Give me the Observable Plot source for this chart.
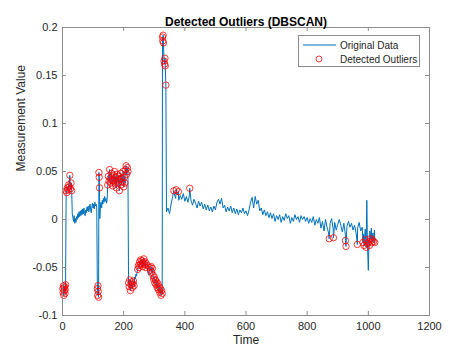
<!DOCTYPE html>
<html><head><meta charset="utf-8">
<script src="https://cdn.jsdelivr.net/npm/d3@7"></script>
<script src="https://cdn.jsdelivr.net/npm/@observablehq/plot@0.6"></script>
<style>
body{margin:0;background:#fff;font-family:"Liberation Sans",Arial,sans-serif;}
#wrap{position:relative;width:474px;height:355px;}
#legend{position:absolute;left:298px;top:35px;width:120px;height:30px;border:1px solid #8c8c8c;background:#fff;}
#legend svg{display:block;}
</style></head><body>
<div id="wrap"><div id="chart"></div><div id="legend"></div></div>
<script>
const titleText = "Detected Outliers (DBSCAN)";
const xLabel = "Time";
const yLabel = "Measurement Value";
const legendLabels = ["Original Data", "Detected Outliers"];
const xTicks = [0, 200, 400, 600, 800, 1000, 1200];
const yTicks = [-0.1, -0.05, 0, 0.05, 0.1, 0.15, 0.2];

// regular (non-outlier) samples in the early part
const normalTime = [32,34,36,38,40,42,44,46,48,50,52,54,56,58,60,62,64,66,68,70,72,74,76,78,80,82,84,86,88,90,92,94,96,98,100,102,104,106,108,110,112,
  122,124,126,128,130,132,134,136,138,140,142,144,146,
  236,238,240,242,244,
  278,280,282,284];
const normalValue = [0.006,0.002,-0.002,0.004,-0.004,0.001,-0.003,0.003,0.000,0.006,0.002,0.008,0.003,0.009,0.004,0.010,0.005,0.011,0.006,0.012,0.006,0.004,0.010,0.007,0.013,0.009,0.014,0.008,0.012,0.016,0.010,0.007,0.013,0.017,0.012,0.016,0.011,0.018,0.014,0.016,0.012,
  0.001,0.014,0.018,0.012,0.020,0.016,0.022,0.018,0.024,0.019,0.022,0.017,0.021,
  -0.060,-0.062,-0.057,-0.059,-0.055,
  -0.052,-0.056,-0.058,-0.054];

// regular samples from t = 340 on, every 5 time units
const lateStart = 340, lateStep = 5;
const lateValue = [0.008,0.012,0.006,0.016,0.024,0.027,0.022,0.026,0.020,0.025,0.021,0.027,0.019,0.024,0.018,0.025,
  0.020,0.015,0.021,0.017,0.012,0.019,0.014,0.018,0.011,0.016,0.010,0.015,0.009,0.013,0.008,0.014,
  0.010,0.018,0.021,0.016,0.022,0.012,0.015,0.008,0.013,0.009,0.014,0.007,0.012,0.006,0.011,0.005,
  0.010,0.007,0.012,0.006,0.009,0.004,0.010,0.018,0.023,0.012,0.024,0.016,0.020,0.009,0.012,0.005,
  0.010,0.004,0.008,0.002,0.007,0.001,0.006,-0.002,0.004,0.000,0.005,-0.003,0.003,-0.001,0.006,0.001,
  0.004,-0.004,0.002,-0.002,0.005,0.000,0.003,-0.003,0.004,0.000,0.003,-0.002,0.002,-0.004,0.001,-0.003,
  0.003,-0.006,0.000,-0.004,0.002,-0.009,-0.002,-0.012,0.000,-0.008,-0.014,-0.004,0.001,-0.010,-0.003,-0.011,
  -0.005,0.000,-0.006,-0.013,-0.004,-0.016,-0.007,-0.002,-0.008,-0.004,-0.011,-0.006,-0.014,-0.009,-0.003,-0.012,
  -0.008,-0.015,-0.010,0.020,-0.053,-0.012,-0.009,-0.014,-0.011];

// detected outliers
const outlierTime = [1,2,3,4,5,6,7,8,9,10,
  12,14,16,18,20,22,24,26,28,30,
  114,115,116,117,118,119,120,121,
  148,150,152,154,156,158,160,162,164,166,168,170,172,174,176,178,180,182,184,186,188,190,192,194,196,198,200,202,204,206,208,210,212,214,
  216,218,220,222,224,226,228,230,232,234,
  246,248,250,252,254,256,258,260,262,264,266,268,270,272,274,276,
  286,288,290,292,294,
  296,298,300,302,304,306,308,310,312,314,316,318,320,322,324,326,
  327,328,329,330,332,334,335,336,338,
  364,372,379,416,872,886,925,927,964,982,986,991,993,997,1002,1004,1007,1011,1013,1017,1021];
const outlierValue = [-0.072,-0.076,-0.069,-0.079,-0.071,-0.074,-0.070,-0.077,-0.073,-0.068,
  0.030,0.028,0.033,0.031,0.036,0.034,0.046,0.032,0.038,0.030,
  -0.072,-0.079,-0.069,-0.075,-0.081,0.049,0.044,0.033,
  0.036,0.045,0.040,0.052,0.043,0.038,0.048,0.041,0.035,0.046,0.040,0.050,0.037,0.044,0.033,0.047,0.041,0.038,0.045,0.030,0.042,0.048,0.036,0.043,0.039,0.050,0.034,0.044,0.038,0.052,0.056,0.047,0.054,0.050,
  -0.066,-0.070,-0.063,-0.074,-0.068,-0.065,-0.071,-0.067,-0.064,-0.069,
  -0.052,-0.048,-0.050,-0.044,-0.047,-0.042,-0.046,-0.043,-0.049,-0.045,-0.041,-0.047,-0.044,-0.050,-0.046,-0.048,
  -0.050,-0.053,-0.049,-0.055,-0.051,
  -0.058,-0.062,-0.060,-0.066,-0.063,-0.068,-0.065,-0.071,-0.067,-0.073,-0.070,-0.076,-0.072,-0.079,-0.074,-0.077,
  0.190,0.186,0.192,0.184,0.165,0.162,0.168,0.160,0.140,
  0.030,0.031,0.029,0.0325,-0.020,-0.019,-0.022,-0.028,-0.026,-0.024,-0.027,-0.021,-0.029,-0.025,-0.023,-0.027,-0.020,-0.024,-0.021,-0.023,-0.024];

const outliers = outlierTime.map((t, i) => ({t, v: outlierValue[i]}));
const lineData = [
  ...normalTime.map((t, i) => ({t, v: normalValue[i]})),
  ...lateValue.map((v, i) => ({t: lateStart + i * lateStep, v})),
  ...outliers
].sort((a, b) => a.t - b.t);

const axisColor = "#8c8c8c";
const W = 474, H = 355, ML = 62, MR = 45, MT = 27, MB = 40;
const innerW = W - ML - MR, innerH = H - MT - MB, tickLen = 4;

const chart = Plot.plot({
  width: W, height: H,
  marginLeft: ML, marginRight: MR, marginTop: MT, marginBottom: MB,
  style: {fontFamily: "'Liberation Sans', Arial, sans-serif", background: "#fff", color: "#262626"},
  x: {domain: [0, 1200]},
  y: {domain: [-0.1, 0.2]},
  marks: [
    Plot.line(lineData, {x: "t", y: "v", stroke: "#0072BD", strokeWidth: 1}),
    Plot.dot(outliers, {x: "t", y: "v", r: 3.2, stroke: "#ff0000", strokeOpacity: 0.85, fill: "none", strokeWidth: 0.9}),
    Plot.frame({stroke: axisColor}),
    Plot.tickX(xTicks, {x: d => d, insetTop: innerH - tickLen, stroke: axisColor}),
    Plot.tickX(xTicks, {x: d => d, insetBottom: innerH - tickLen, stroke: axisColor}),
    Plot.tickY(yTicks, {y: d => d, insetRight: innerW - tickLen, stroke: axisColor}),
    Plot.tickY(yTicks, {y: d => d, insetLeft: innerW - tickLen, stroke: axisColor}),
    Plot.axisX({ticks: xTicks, tickSize: 0, tickPadding: 7, fontSize: 11, tickFormat: d => String(d), label: null}),
    Plot.axisY({ticks: yTicks, tickSize: 0, tickPadding: 5, fontSize: 11, tickFormat: d => String(d), label: null}),
    Plot.text([titleText], {text: d => d, frameAnchor: "top", dy: -10, fontWeight: "bold", fontSize: 12, fill: "#000"}),
    Plot.text([xLabel], {text: d => d, frameAnchor: "bottom", dy: 28, fontSize: 12}),
    Plot.text([yLabel], {text: d => d, frameAnchor: "left", rotate: -90, dx: -41, fontSize: 12})
  ]
});
document.getElementById("chart").appendChild(chart);

document.getElementById("legend").innerHTML =
  `<svg width="120" height="30" font-family="'Liberation Sans', Arial, sans-serif" font-size="10" fill="#262626">
    <line x1="4" x2="37" y1="9" y2="9" stroke="#0072BD" stroke-width="1"/>
    <text x="41" y="12.5">${legendLabels[0]}</text>
    <circle cx="20" cy="23" r="3" fill="none" stroke="#ff0000" stroke-opacity="0.85" stroke-width="0.9"/>
    <text x="41" y="26.5">${legendLabels[1]}</text>
  </svg>`;
</script>
</body></html>
